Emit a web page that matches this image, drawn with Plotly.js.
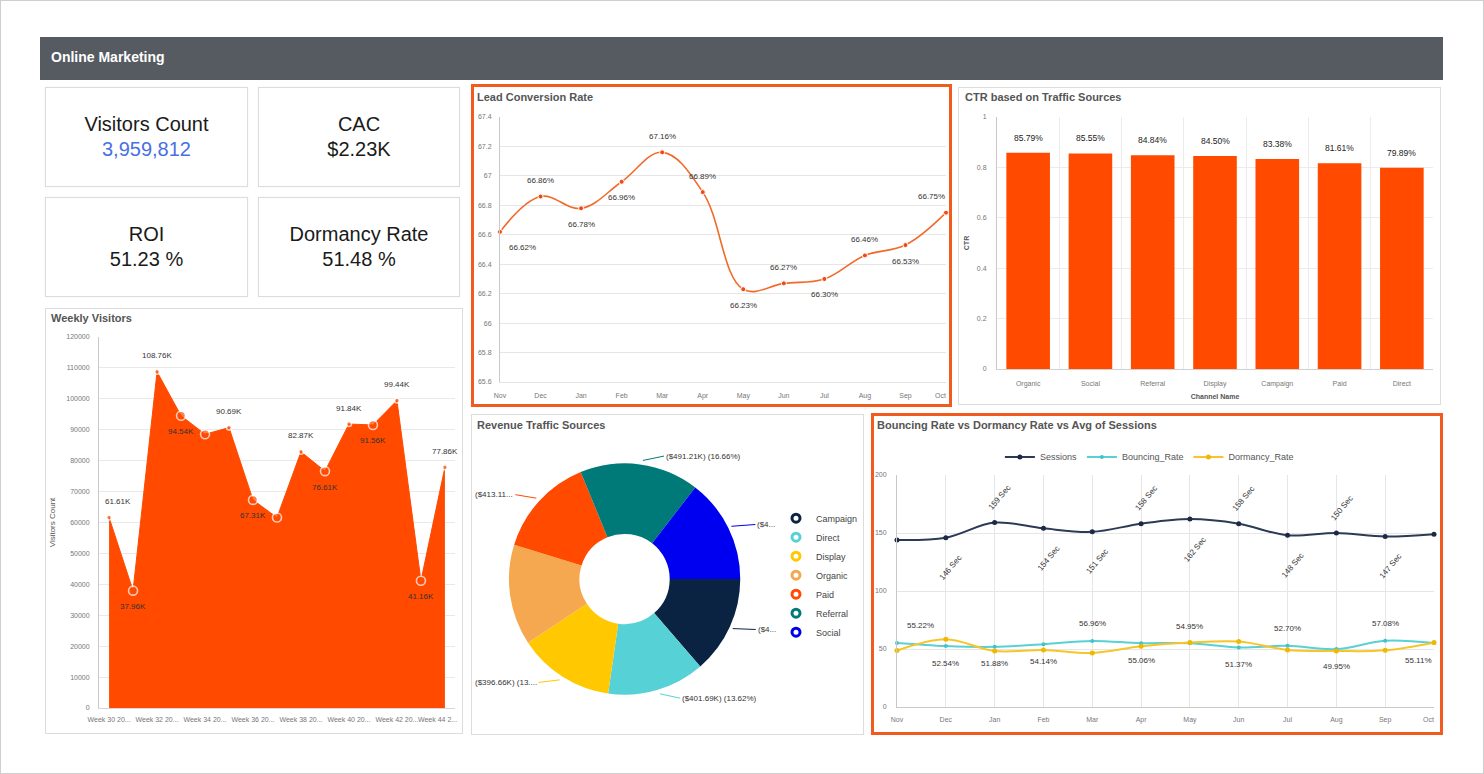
<!DOCTYPE html>
<html>
<head>
<meta charset="utf-8">
<script src="https://cdn.plot.ly/plotly-3.0.1.min.js"></script>
<style>
html,body{margin:0;padding:0;background:#fff;}
body{width:1484px;height:774px;position:relative;overflow:hidden;font-family:'Liberation Sans',Arial,sans-serif;}
#frame{position:absolute;left:0;top:0;width:1484px;height:774px;box-sizing:border-box;border:1px solid #cfcfcf;}
#header{position:absolute;left:40px;top:37px;width:1403px;height:43px;background:#565b62;color:#fff;font-weight:bold;font-size:14px;line-height:40px;padding-left:11px;box-sizing:border-box;}
.card{position:absolute;border:1px solid #dcdcdc;box-sizing:border-box;display:flex;flex-direction:column;justify-content:center;align-items:center;font-size:20px;line-height:25px;color:#1a1a1a;box-shadow:0 0 2px rgba(0,0,0,0.06);padding-bottom:1px;}
.card .v{color:#1a1a1a;}
.card .v.blue{color:#4a6fe3;}
.panel{position:absolute;box-sizing:border-box;border:1px solid #dcdcdc;background:#fff;}
.panel.hl{border:3px solid #f25a1e;}
</style>
</head>
<body>
<div id="frame"></div>
<div id="header">Online Marketing</div>
<div id="cards"></div>
<div class="panel" style="left:45px;top:308px;width:418px;height:426px;"><div id="weekly"></div></div>
<div class="panel hl" style="left:471px;top:84px;width:481px;height:323px;"><div id="lead"></div></div>
<div class="panel" style="left:958px;top:87px;width:483px;height:318px;"><div id="ctr"></div></div>
<div class="panel" style="left:471px;top:414px;width:393px;height:321px;"><div id="pie"></div></div>
<div class="panel hl" style="left:871px;top:413px;width:572px;height:322px;"><div id="bounce"></div></div>
<script>
// ---------------- DATA ----------------
const kpiNames = ['Visitors Count', 'CAC', 'ROI', 'Dormancy Rate'];
const kpiValues = ['3,959,812', '$2.23K', '51.23 %', '51.48 %'];

const weeks = ['Week 30','Week 31','Week 32','Week 33','Week 34','Week 35','Week 36','Week 37',
               'Week 38','Week 39','Week 40','Week 41','Week 42','Week 43','Week 44'];
const weeklyVisitors = [61610, 37960, 108760, 94540, 88550, 90690, 67310, 61600,
                        82870, 76610, 91840, 91560, 99440, 41160, 77860];
const weekTickVals = ['Week 30','Week 32','Week 34','Week 36','Week 38','Week 40','Week 42','Week 44'];
const weekTickText = ['Week 30 20...','Week 32 20...','Week 34 20...','Week 36 20...',
                      'Week 38 20...','Week 40 20...','Week 42 20...','Week 44 2...'];

const months = ['Nov','Dec','Jan','Feb','Mar','Apr','May','Jun','Jul','Aug','Sep','Oct'];
const leadRate = [66.62, 66.86, 66.78, 66.96, 67.16, 66.89, 66.23, 66.27, 66.30, 66.46, 66.53, 66.75];

const channels = ['Organic','Social','Referral','Display','Campaign','Paid','Direct'];
const ctr = [0.8579, 0.8555, 0.8484, 0.8450, 0.8338, 0.8161, 0.7989];

const revenueSources = ['Campaign','Direct','Display','Organic','Paid','Referral','Social'];
const revenueK = [402.50, 401.69, 396.66, 414.83, 413.11, 491.21, 428.80];

const sessions = [144, 146, 159, 154, 151, 158, 162, 158, 148, 150, 147, 149];
const bouncingRate = [55.22, 52.54, 51.88, 54.14, 56.96, 55.06, 54.95, 51.37, 52.70, 49.95, 57.08, 55.11];
const dormancyRate = [48.6, 58.4, 48.3, 49.2, 46.6, 52.3, 55.5, 56.4, 49.2, 48.3, 48.9, 55.5];

// ---------------- STYLE ----------------
const FONT = "'Liberation Sans', Arial, sans-serif";
const ORANGE = '#ff4a00';
const weeklyLabelPos = ['t','b','t','b','','t','b','','t','b','t','b','t','b','t'];
const weeklyMarkerSize = weeklyLabelPos.map(p => p === 't' ? 5 : 9);
const leadLabelPos = ['b','t','b','b','t','t','b','t','b','t','b','t'];
const sessionLabelPos = ['','b','t','b','b','t','b','t','b','t','b',''];
const bounceLabelPos = ['t','b','b','b','t','b','t','b','t','b','t','b'];
const pieColors = ['#0b2343','#56d1d5','#ffc800','#f5a850','#ff4a00','#007a78','#0000f0'];
const pieLabelChars = [3, null, 15, 0, 8, null, 3];
// label offset (px) from slice outer edge, and which side the text sits on
const pieLabelOffset = [[26, 1], [23, 5], [-24, 3], [0, 0], [-24, -4], [24, -5], [27, -2]];
const cfg = {staticPlot: true, displayModeBar: false};

// ---------------- KPI CARDS ----------------
const cardBoxes = [[45,87,203,100],[258,87,202,100],[45,197,203,100],[258,197,202,100]];
const cardsEl = document.getElementById('cards');
kpiNames.forEach((n, i) => {
  const b = cardBoxes[i];
  const d = document.createElement('div');
  d.className = 'card';
  d.style.cssText = `left:${b[0]}px;top:${b[1]}px;width:${b[2]}px;height:${b[3]}px;`;
  d.innerHTML = `<div>${n}</div><div class="v${i === 0 ? ' blue' : ''}">${kpiValues[i]}</div>`;
  cardsEl.appendChild(d);
});

function titleObj(text, W, H, x, y) {
  return {text: '<b>' + text + '</b>', xref: 'container', yref: 'container',
          x: x / W, xanchor: 'left', y: 1 - y / H, yanchor: 'middle',
          font: {family: FONT, size: 11, color: '#555'}};
}
function labelAnns(xs, ys, texts, pos, up, down, firstShift, lastShift, fontSize, color) {
  const out = [];
  xs.forEach((x, i) => {
    if (!pos[i]) return;
    let xs_ = 0;
    if (i === 0) xs_ = firstShift;
    if (i === xs.length - 1) xs_ = lastShift;
    out.push({x: x, y: ys[i], xref: 'x', yref: 'y', text: texts[i], showarrow: false,
              yshift: pos[i] === 't' ? up : -down, xshift: xs_, xanchor: 'center', yanchor: 'middle',
              font: {family: FONT, size: fontSize, color: color}});
  });
  return out;
}
// last category tick label, nudged left so it stays inside the panel (as in the reference)
function lastTick(cat, text, dy, dx) {
  return {x: cat, xref: 'x', y: 0, yref: 'paper', text: text, showarrow: false, xanchor: 'center',
          yanchor: 'middle', yshift: -dy, xshift: dx, font: {family: FONT, size: 7, color: '#777'}};
}

// ---------------- WEEKLY VISITORS ----------------
(function () {
  const W = 416, H = 424;
  const n = weekTickVals.length;
  Plotly.newPlot('weekly', [{
    type: 'scatter', x: weeks, y: weeklyVisitors, mode: 'lines+markers',
    fill: 'tozeroy', fillcolor: ORANGE, line: {color: ORANGE, width: 1},
    marker: {color: ORANGE, size: weeklyMarkerSize, line: {color: '#fff', width: 1.6}},
    hoverinfo: 'skip'
  }], {
    width: W, height: H, margin: {l: 53, r: 7, t: 28, b: 25},
    paper_bgcolor: '#fff', plot_bgcolor: '#fff', showlegend: false,
    font: {family: FONT, size: 7, color: '#777'},
    title: titleObj('Weekly Visitors', W, H, 5, 9),
    xaxis: {type: 'category', range: [-0.42, 14.42], tickvals: weekTickVals.slice(0, n - 1), tickangle: 0,
            ticktext: weekTickText.slice(0, n - 1),
            tickfont: {size: 7, color: '#777'}, showgrid: false, showline: true, linecolor: '#d6d6d6',
            ticks: '', ticklabelstandoff: 5, zeroline: false},
    yaxis: {range: [0, 120000], dtick: 10000, tickformat: 'd', tickfont: {size: 7, color: '#777'},
            gridcolor: '#e9e9e9', showline: true, linecolor: '#c9c9c9', ticks: '', ticklabelstandoff: 7,
            zeroline: false, title: {text: 'Visitors Count', font: {size: 8, color: '#555'}, standoff: 9}},
    annotations: labelAnns(weeks, weeklyVisitors, weeklyVisitors.map(v => (v / 1000).toFixed(2) + 'K'),
                           weeklyLabelPos, 16, 16, 9, 0, 8, '#333')
      .concat([lastTick(weekTickVals[n - 1], weekTickText[n - 1], 11, -7)])
  }, cfg);
})();

// ---------------- LEAD CONVERSION ----------------
(function () {
  const W = 475, H = 317;
  const m = months.length;
  Plotly.newPlot('lead', [{
    type: 'scatter', x: months, y: leadRate, mode: 'lines+markers',
    line: {color: '#f26a2a', width: 1.6, shape: 'spline', smoothing: 1.1},
    marker: {color: '#f04a10', size: 5, line: {color: '#fff', width: 1}},
    hoverinfo: 'skip', cliponaxis: false
  }], {
    width: W, height: H, margin: {l: 26, r: 3, t: 30, b: 22},
    paper_bgcolor: '#fff', plot_bgcolor: '#fff', showlegend: false,
    font: {family: FONT, size: 7, color: '#777'},
    title: titleObj('Lead Conversion Rate', W, H, 3, 10),
    xaxis: {type: 'category', range: [0, 11], tickvals: months.slice(0, m - 1),
            tickangle: 0, tickfont: {size: 7, color: '#777'}, showgrid: false,
            showline: true, linecolor: '#e2e2e2', ticks: '', ticklabelstandoff: 7, zeroline: false},
    yaxis: {range: [65.6, 67.4], dtick: 0.2, tickfont: {size: 7, color: '#777'}, gridcolor: '#e6e6e6',
            showline: true, linecolor: '#c9c9c9', ticks: '', ticklabelstandoff: 6, zeroline: false},
    annotations: labelAnns(months, leadRate, leadRate.map(v => v.toFixed(2) + '%'),
                           leadLabelPos, 16, 16, 22, -15, 8, '#333')
      .concat([lastTick(months[m - 1], months[m - 1], 13, -6)])
  }, cfg);
})();

// ---------------- CTR ----------------
(function () {
  const W = 481, H = 316;
  Plotly.newPlot('ctr', [{
    type: 'bar', x: channels, y: ctr, width: 0.7, marker: {color: ORANGE}, hoverinfo: 'skip'
  }], {
    width: W, height: H, margin: {l: 38, r: 7, t: 29, b: 35},
    paper_bgcolor: '#fff', plot_bgcolor: '#fff', showlegend: false,
    font: {family: FONT, size: 7, color: '#777'},
    title: titleObj('CTR based on Traffic Sources', W, H, 6, 9),
    xaxis: {type: 'category', tickfont: {size: 7, color: '#777'}, showgrid: true, gridcolor: '#ececec',
            tickson: 'boundaries', showline: true, linecolor: '#d0d0d0', ticks: '', ticklabelstandoff: 8,
            tickangle: 0, title: {text: '<b>Channel Name</b>', font: {size: 7, color: '#555'}, standoff: 6}},
    yaxis: {range: [0, 1], dtick: 0.2, tickfont: {size: 7, color: '#777'}, gridcolor: '#ececec',
            showline: true, linecolor: '#c9c9c9', ticks: '', ticklabelstandoff: 8, zeroline: false,
            title: {text: '<b>CTR</b>', font: {size: 7, color: '#555'}, standoff: 6}},
    annotations: labelAnns(channels, ctr, ctr.map(v => (v * 100).toFixed(2) + '%'),
                           channels.map(() => 't'), 15, 0, 0, 0, 8.5, '#222')
  }, cfg);
})();

// ---------------- REVENUE PIE ----------------
(function () {
  const W = 391, H = 319;
  const dom = {x: [0.0972, 0.7059], y: [0.1129, 0.8589]};
  const total = revenueK.reduce((a, b) => a + b, 0);
  const pieText = revenueK.map((v, i) => {
    const full = '($' + v.toFixed(2) + 'K) (' + (v / total * 100).toFixed(2) + '%)';
    const n = pieLabelChars[i];
    if (n === 0) return '';
    if (n === null) return full;
    return full.slice(0, n) + '...';
  });
  // outside labels with leader lines, anchored at each slice's outer mid-point
  const cx = (dom.x[0] + dom.x[1]) / 2 * W, cy = (1 - (dom.y[0] + dom.y[1]) / 2) * H;
  const R = Math.min((dom.x[1] - dom.x[0]) * W, (dom.y[1] - dom.y[0]) * H) / 2;
  const anns = [];
  let cum = 0;
  revenueK.forEach((v, i) => {
    const mid = (cum + v / 2) / total * 2 * Math.PI;  // clockwise from 3 o'clock
    cum += v;
    if (!pieText[i]) return;
    const px = cx + R * Math.cos(mid), py = cy + R * Math.sin(mid);
    const off = pieLabelOffset[i];
    anns.push({x: px / W, y: 1 - py / H, xref: 'paper', yref: 'paper', text: pieText[i],
               showarrow: true, arrowhead: 0, arrowwidth: 1, arrowcolor: pieColors[i], standoff: 3,
               ax: off[0], ay: off[1], xanchor: off[0] > 0 ? 'left' : 'right', yanchor: 'middle',
               font: {family: FONT, size: 8, color: '#333'}});
  });
  const traces = [{
    type: 'pie', labels: revenueSources, values: revenueK, sort: false, direction: 'clockwise',
    rotation: 90, hole: 0.39, marker: {colors: pieColors, line: {width: 0}},
    textinfo: 'none', automargin: false, domain: dom, showlegend: false, hoverinfo: 'skip'
  }];
  revenueSources.forEach((s, i) => traces.push({
    type: 'scatter', x: [null], y: [null], mode: 'markers', name: s, showlegend: true,
    marker: {symbol: 'circle-open', size: 8, color: pieColors[i], line: {width: 3, color: pieColors[i]}}
  }));
  Plotly.newPlot('pie', traces, {
    width: W, height: H, margin: {l: 0, r: 0, t: 0, b: 0},
    paper_bgcolor: '#fff', plot_bgcolor: '#fff', showlegend: true,
    font: {family: FONT, size: 9, color: '#444'},
    title: titleObj('Revenue Traffic Sources', W, H, 5, 10),
    xaxis: {visible: false}, yaxis: {visible: false},
    legend: {x: 0.80, y: 0.722, xanchor: 'left', yanchor: 'top', font: {size: 9, color: '#444'},
             itemwidth: 30, tracegroupgap: 0, bgcolor: 'rgba(0,0,0,0)'},
    annotations: anns
  }, cfg);
})();

// ---------------- BOUNCING / DORMANCY / SESSIONS ----------------
(function () {
  const W = 566, H = 316;
  const m = months.length;
  const sessAnns = [];
  months.forEach((mo, i) => {
    if (!sessionLabelPos[i]) return;
    sessAnns.push({x: mo, y: sessions[i], xref: 'x', yref: 'y', text: sessions[i] + ' Sec', showarrow: false,
                   textangle: -50, xanchor: 'center', yanchor: 'middle', xshift: 5,
                   yshift: sessionLabelPos[i] === 't' ? 25 : -30,
                   font: {family: FONT, size: 8, color: '#333'}});
  });
  Plotly.newPlot('bounce', [
    {type: 'scatter', name: 'Sessions', x: months, y: sessions, mode: 'lines+markers',
     line: {color: '#2c3a56', width: 2, shape: 'spline', smoothing: 1}, marker: {color: '#1c2a46', size: 5},
     hoverinfo: 'skip', cliponaxis: false},
    {type: 'scatter', name: 'Bouncing_Rate', x: months, y: bouncingRate, mode: 'lines+markers',
     line: {color: '#5ad0d4', width: 2, shape: 'spline', smoothing: 1}, marker: {color: '#40c4c8', size: 4},
     hoverinfo: 'skip', cliponaxis: false},
    {type: 'scatter', name: 'Dormancy_Rate', x: months, y: dormancyRate, mode: 'lines+markers',
     line: {color: '#f7c52a', width: 2, shape: 'spline', smoothing: 1}, marker: {color: '#f0b800', size: 5},
     hoverinfo: 'skip', cliponaxis: false}
  ], {
    width: W, height: H, margin: {l: 23, r: 6, t: 59, b: 25},
    paper_bgcolor: '#fff', plot_bgcolor: '#fff', showlegend: true,
    font: {family: FONT, size: 7, color: '#777'},
    title: titleObj('Bouncing Rate vs Dormancy Rate vs Avg of Sessions', W, H, 3, 9),
    legend: {orientation: 'h', x: 0.47, xanchor: 'center', y: 1.078, yanchor: 'middle',
             font: {size: 9, color: '#555'}, bgcolor: 'rgba(0,0,0,0)', itemwidth: 30},
    xaxis: {type: 'category', range: [0, 11], tickvals: months.slice(0, m - 1),
            tickangle: 0, tickfont: {size: 7, color: '#777'}, showgrid: true,
            gridcolor: '#e6e6e6', showline: true, linecolor: '#c9c9c9', ticks: '', ticklabelstandoff: 6},
    yaxis: {range: [0, 200], dtick: 50, tickfont: {size: 7, color: '#777'}, gridcolor: '#e6e6e6',
            showline: true, linecolor: '#c9c9c9', ticks: '', ticklabelstandoff: 8, zeroline: false},
    annotations: sessAnns.concat(labelAnns(months, bouncingRate, bouncingRate.map(v => v.toFixed(2) + '%'),
                                           bounceLabelPos, 17, 17, 23, -16, 8, '#333'))
      .concat([lastTick(months[m - 1], months[m - 1], 12, -6)])
  }, cfg);
})();
</script>
</body>
</html>
